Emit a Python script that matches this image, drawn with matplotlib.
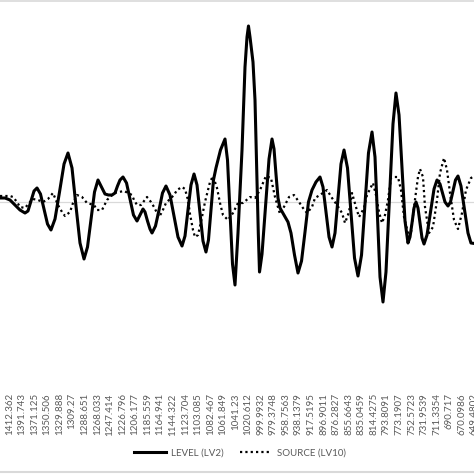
import matplotlib
matplotlib.use("Agg")
import matplotlib.pyplot as plt
from matplotlib.lines import Line2D

# ---- data (x in axis units, y in relative intensity) ----
level_x = [1427.6, 1419.4, 1411.2, 1403.0, 1394.8, 1386.6, 1381.7, 1376.8, 1371.8, 1366.9,
           1361.2, 1355.4, 1349.7, 1344.0, 1337.4, 1330.0, 1322.6, 1316.1, 1309.5, 1303.0,
           1296.4, 1289.8, 1284.1, 1278.4, 1272.6, 1266.9, 1261.1, 1255.4, 1249.7, 1243.9,
           1239.0, 1234.9, 1230.8, 1225.9, 1220.1, 1214.4, 1208.7, 1202.9, 1198.0, 1193.1,
           1189.8, 1185.7, 1181.6, 1178.3, 1172.6, 1166.8, 1161.1, 1155.4, 1148.8, 1142.2,
           1135.7, 1129.1, 1124.2, 1119.3, 1114.4, 1109.4, 1104.5, 1099.6, 1094.7, 1089.8,
           1085.7, 1081.6, 1077.5, 1073.4, 1066.0, 1058.6, 1054.5, 1050.4, 1046.3, 1042.2,
           1037.3, 1030.7, 1025.8, 1022.5, 1020.1, 1017.6, 1012.7, 1009.4, 1006.1, 1004.0,
           1002.0, 997.9, 992.2, 986.4, 981.5, 978.2, 975.0, 971.7, 968.4, 961.8,
           955.3, 950.4, 944.6, 938.9, 933.1, 927.4, 921.7, 915.9, 909.4, 902.8,
           897.9, 893.0, 888.0, 883.1, 878.2, 873.3, 868.4, 863.4, 857.7, 852.0,
           846.2, 840.5, 834.7, 829.0, 823.3, 817.5, 812.6, 808.5, 804.4, 799.5,
           794.6, 788.8, 783.1, 778.2, 773.2, 768.3, 763.4, 758.5, 755.2, 751.9,
           748.6, 745.4, 742.1, 738.8, 735.5, 732.2, 727.3, 721.6, 715.8, 710.9,
           706.0, 701.9, 697.8, 692.9, 688.8, 684.7, 680.6, 676.5, 671.6, 665.8,
           660.1, 655.2, 643.7]
level_y = [0.04, 0.04, 0.02, -0.03, -0.08, -0.11, -0.09, 0.01, 0.11, 0.14,
           0.08, -0.07, -0.22, -0.28, -0.17, 0.10, 0.38, 0.49, 0.34, -0.04,
           -0.41, -0.57, -0.45, -0.18, 0.10, 0.22, 0.15, 0.08, 0.07, 0.07,
           0.09, 0.16, 0.22, 0.25, 0.19, 0.03, -0.13, -0.19, -0.13, -0.07,
           -0.10, -0.19, -0.27, -0.31, -0.24, -0.08, 0.09, 0.16, 0.07, -0.14,
           -0.35, -0.44, -0.34, -0.08, 0.17, 0.28, 0.17, -0.11, -0.39, -0.50,
           -0.38, -0.08, 0.22, 0.34, 0.52, 0.63, 0.42, -0.10, -0.62, -0.83,
           -0.31, 0.52, 1.35, 1.65, 1.76, 1.65, 1.40, 1.02, 0.22, -0.31,
           -0.70, -0.52, -0.05, 0.43, 0.63, 0.53, 0.28, 0.04, -0.06, -0.13,
           -0.20, -0.31, -0.53, -0.71, -0.59, -0.30, 0.00, 0.12, 0.20, 0.25,
           0.15, -0.10, -0.35, -0.45, -0.31, 0.03, 0.38, 0.52, 0.34, -0.11,
           -0.56, -0.74, -0.53, -0.02, 0.49, 0.70, 0.45, -0.15, -0.75, -1.00,
           -0.70, 0.04, 0.78, 1.09, 0.87, 0.34, -0.19, -0.41, -0.35, -0.21,
           -0.06, 0.00, -0.06, -0.21, -0.36, -0.42, -0.33, -0.10, 0.13, 0.22,
           0.18, 0.09, 0.00, -0.04, 0.00, 0.11, 0.22, 0.26, 0.16, -0.08,
           -0.31, -0.41, -0.42]

source_x = [1427.6, 1419.4, 1411.2, 1406.3, 1399.7, 1394.8, 1386.6, 1378.4, 1373.5, 1365.3,
            1357.1, 1348.9, 1340.7, 1332.5, 1325.9, 1321.0, 1312.8, 1307.9, 1301.3, 1293.1,
            1284.9, 1273.4, 1268.5, 1260.3, 1252.1, 1240.6, 1224.2, 1211.1, 1207.8, 1202.9,
            1196.4, 1191.4, 1186.5, 1180.0, 1175.0, 1166.8, 1161.9, 1155.4, 1142.2, 1137.3,
            1129.1, 1124.2, 1119.3, 1116.0, 1111.1, 1107.8, 1102.9, 1098.0, 1091.4, 1083.2,
            1078.3, 1071.7, 1066.8, 1061.9, 1053.7, 1045.5, 1037.3, 1029.1, 1017.6, 1009.4,
            1001.2, 991.4, 983.2, 976.6, 968.4, 960.2, 953.6, 945.4, 937.2, 930.7,
            924.1, 915.9, 911.0, 902.8, 891.3, 883.1, 874.9, 866.7, 861.8, 855.2,
            850.3, 843.8, 838.8, 830.6, 825.7, 815.9, 811.0, 806.0, 801.1, 796.2,
            791.3, 786.4, 781.4, 774.9, 770.0, 765.0, 758.5, 753.6, 748.6, 742.1,
            738.8, 733.9, 730.6, 724.0, 717.5, 710.9, 706.0, 699.4, 694.5, 689.6,
            683.0, 676.5, 669.9, 663.4, 655.2, 643.7]
source_y = [0.06, 0.06, 0.06, 0.05, 0.00, -0.05, -0.06, 0.00, 0.03, 0.02,
            0.00, 0.03, 0.09, -0.03, -0.10, -0.14, -0.10, -0.01, 0.07, 0.05,
            -0.01, -0.03, -0.08, -0.08, 0.02, 0.09, 0.11, 0.07, 0.02, -0.03,
            -0.03, 0.01, 0.05, 0.00, -0.05, -0.15, -0.10, -0.01, 0.07, 0.12,
            0.15, 0.13, 0.02, -0.12, -0.28, -0.35, -0.33, -0.20, 0.00, 0.20,
            0.26, 0.14, -0.01, -0.13, -0.18, -0.11, -0.01, -0.01, 0.05, 0.04,
            0.12, 0.26, 0.24, 0.05, -0.12, -0.03, 0.05, 0.07, 0.00, -0.06,
            -0.11, -0.05, 0.04, 0.07, 0.12, 0.04, -0.03, -0.11, -0.21, -0.10,
            0.09, -0.05, -0.15, -0.06, 0.07, 0.19, 0.07, -0.10, -0.21, -0.13,
            0.02, 0.24, 0.25, 0.25, 0.12, -0.15, -0.31, -0.31, -0.05, 0.25,
            0.33, 0.25, -0.05, -0.31, -0.25, 0.02, 0.29, 0.44, 0.32, 0.09,
            -0.18, -0.27, -0.11, 0.12, 0.24, 0.28]

tick_labels = ["1432.98", "1412.362", "1391.743", "1371.125", "1350.506", "1329.888",
               "1309.27", "1288.651", "1268.033", "1247.414", "1226.796", "1206.177",
               "1185.559", "1164.941", "1144.322", "1123.704", "1103.085", "1082.467",
               "1061.849", "1041.23", "1020.612", "999.9932", "979.3748", "958.7563",
               "938.1379", "917.5195", "896.9011", "876.2827", "855.6643", "835.0459",
               "814.4275", "793.8091", "773.1907", "752.5723", "731.9539", "711.3354",
               "690.717", "670.0986", "649.4802"]
tick_values = [float(t) for t in tick_labels]

series_names = ["LEVEL (LV2)", "SOURCE (LV10)"]

# ---- figure ----
plt.rcParams['font.family'] = ['Lato', 'DejaVu Sans']
W, H = 474, 474
fig = plt.figure(figsize=(W / 100, H / 100), dpi=100)
fig.patch.set_facecolor('white')

left_px, right_px, top_px, bot_px = -10, 480, 10, 389
ax = fig.add_axes([left_px / W, 1 - bot_px / H, (right_px - left_px) / W, (bot_px - top_px) / H])
ax.set_facecolor('none')

ax.axhline(0, color='#d9d9d9', lw=0.9, zorder=1)
ax.plot(source_x, source_y, color='black', lw=1.6, linestyle=(0, (1, 1.4)),
        dash_capstyle='butt', zorder=2, label=series_names[1])
ax.plot(level_x, level_y, color='black', lw=2.2, solid_joinstyle='round',
        solid_capstyle='round', zorder=3, label=series_names[0])

ax.set_xlim(1444.0, 640.4)
ax.set_ylim(-1.87, 1.92)
ax.set_xticks(tick_values)
ax.set_xticklabels(tick_labels, rotation=90, fontsize=7, color='#595959')
ax.tick_params(axis='x', length=0, pad=3)
ax.set_yticks([])
for s in ax.spines.values():
    s.set_visible(False)

handles = [Line2D([], [], color='black', lw=2.2),
           Line2D([], [], color='black', lw=1.6, linestyle=(0, (1, 1.4)), dash_capstyle='butt')]
fig.legend(handles, series_names, loc='center', bbox_to_anchor=(240 / W, 1 - 453 / H),
           ncol=2, frameon=False, fontsize=7, labelcolor='#595959',
           handlelength=3.3, handletextpad=0.5, columnspacing=1.6)

# chart-area border (top and bottom edges visible)
fig.add_artist(Line2D([0, 1], [1 - 0.8 / H, 1 - 0.8 / H], transform=fig.transFigure,
                      color='#d9d9d9', lw=1.2))
fig.add_artist(Line2D([0, 1], [2.5 / H, 2.5 / H], transform=fig.transFigure,
                      color='#d9d9d9', lw=1.5))

fig.savefig('out.png', dpi=100, facecolor='white')
